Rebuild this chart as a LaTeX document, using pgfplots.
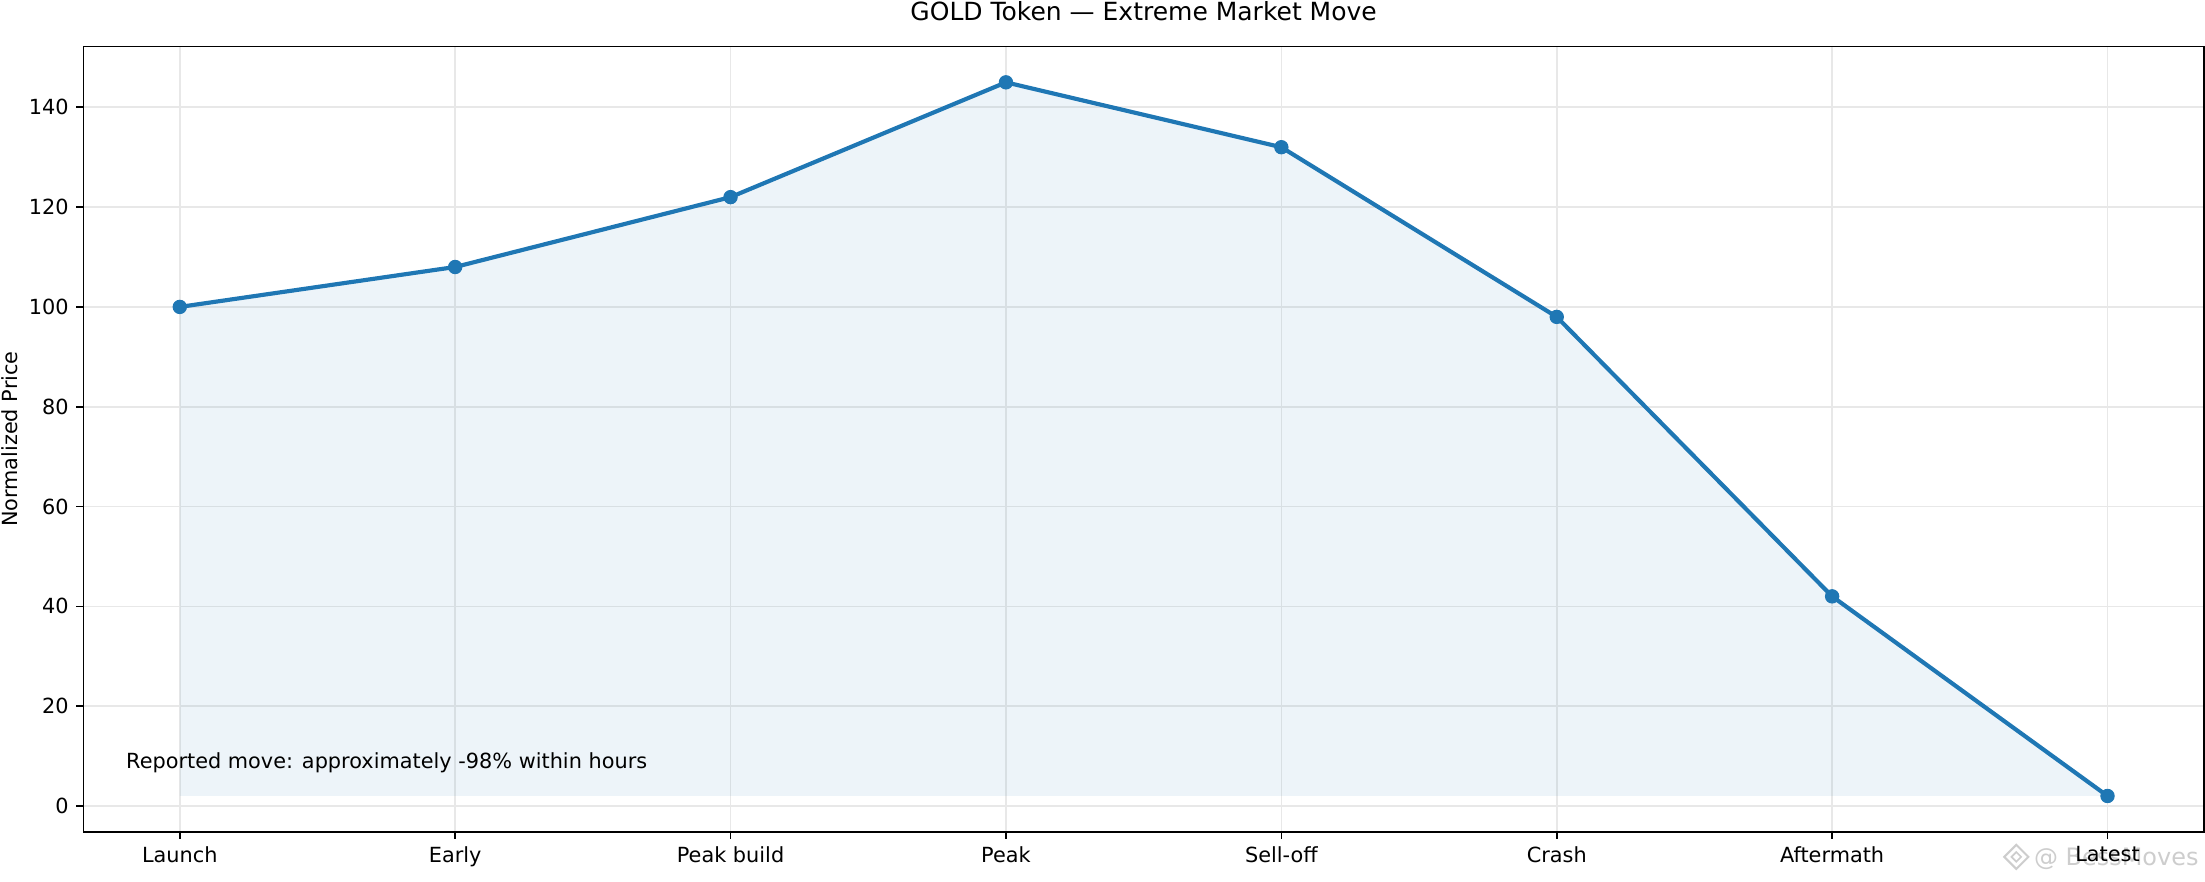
\documentclass[border=0pt]{standalone}
\usepackage{fontspec}
\setmainfont{DejaVu Sans}
\usepackage{pgfplots}
\pgfplotsset{compat=1.18}
\usetikzlibrary{shapes.geometric}
\definecolor{tabblue}{RGB}{31,119,180}
\definecolor{gridgray}{RGB}{232,232,232}
\definecolor{wm}{RGB}{205,205,205}

\begin{document}
\begin{tikzpicture}
\path[use as bounding box] (-40.03pt,-24.15pt) rectangle (1018.37pt,399.2pt);
% watermark
\node[text=wm, anchor=base, inner sep=0pt, font=\fontsize{11.5}{13}\selectfont] at (975.8pt,-16pt) {@ BessMoves};
\node[draw=wm, line width=1pt, diamond, minimum size=12pt, inner sep=0pt] at (927.8pt,-12.1pt) {};
\node[draw=wm, line width=0.8pt, diamond, minimum size=5pt, inner sep=0pt] at (927.8pt,-12.1pt) {};
\begin{axis}[
  at={(0,0)}, anchor=south west,
  scale only axis, width=1017.9pt, height=376.8pt,
  xmin=-0.35, xmax=7.35, ymin=-5.15, ymax=152.15,
  xtick={0,1,2,3,4,5,6,7},
  xticklabels={Launch, Early, Peak build, Peak, Sell-off, Crash, Aftermath, Latest},
  ytick={0,20,40,60,80,100,120,140},
  tick align=outside, major tick length=3.5pt,
  tick pos=left,
  every tick/.style={black, line width=0.8pt},
  axis line style={black, line width=0.8pt},
  grid=major, major grid style={gridgray, line width=0.8pt},
  tick label style={font=\fontsize{10}{12}\selectfont},
  /pgf/number format/assume math mode=true,
  title={GOLD Token — Extreme Market Move},
  title style={at={(0.5,1)}, anchor=base, yshift=6.4pt, font=\fontsize{12}{14}\selectfont},
  ylabel={Normalized Price},
  ylabel style={at={(axis description cs:-0.0389,0.5)}, anchor=north, inner sep=0pt, font=\fontsize{10}{12}\selectfont},
]
\addplot[draw=none, fill=tabblue, fill opacity=0.08] coordinates {(0,2) (0,100) (1,108) (2,122) (3,145) (4,132) (5,98) (6,42) (7,2)} -- cycle;
\addplot[tabblue, line width=2pt, mark=*, mark size=3.2pt, mark options={solid, fill=tabblue, draw=tabblue, line width=0.5pt}] coordinates {(0,100) (1,108) (2,122) (3,145) (4,132) (5,98) (6,42) (7,2)};
\node[anchor=base west, inner sep=0pt, font=\fontsize{10}{12}\selectfont] at (rel axis cs:0.02,0.08) {Reported move: approximately -98\% within hours};
\end{axis}
\end{tikzpicture}
\end{document}
